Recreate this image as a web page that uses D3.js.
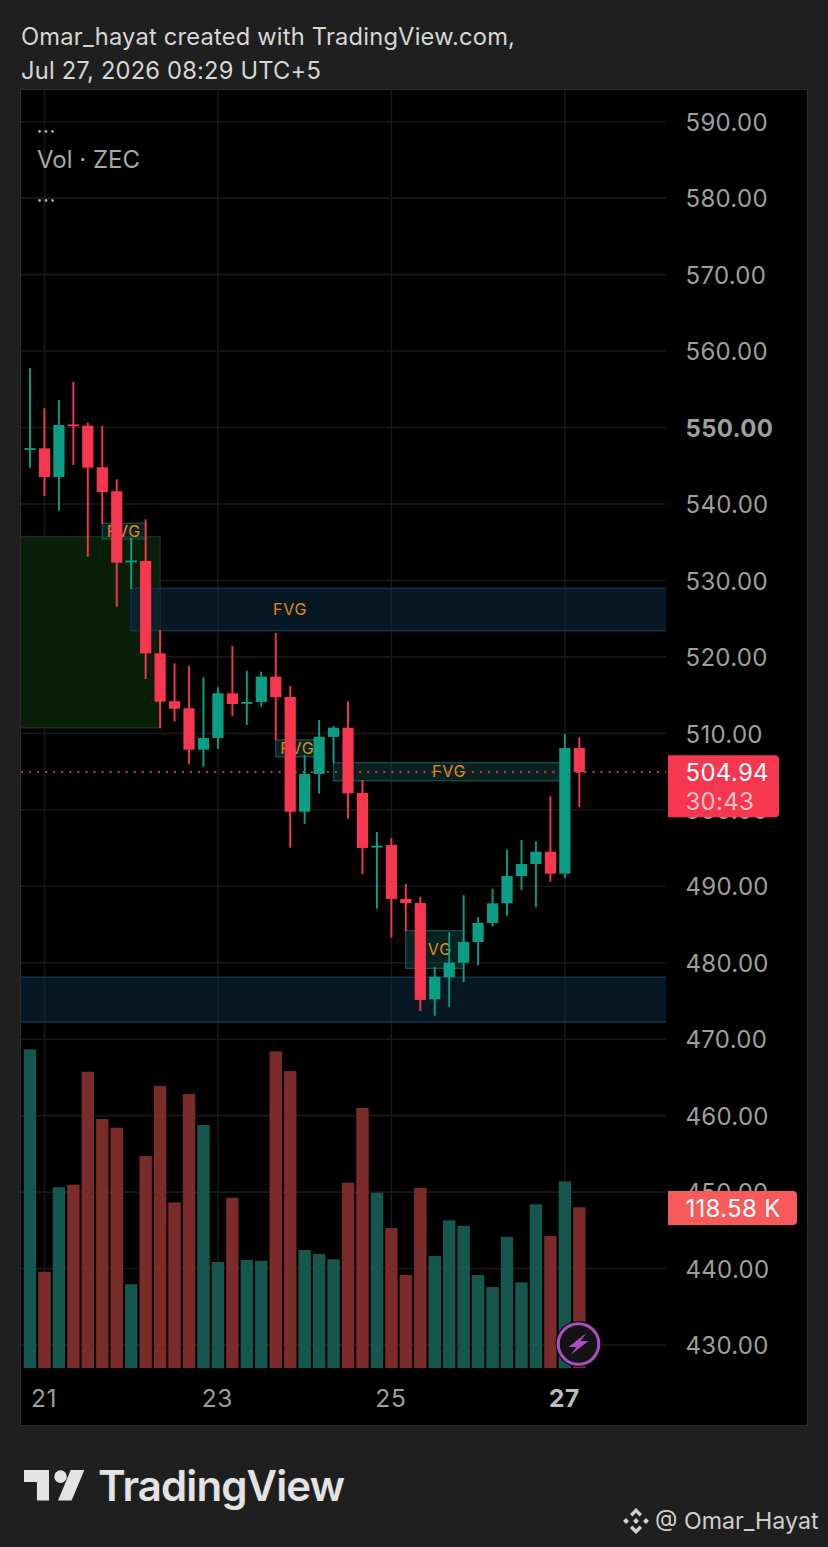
<!DOCTYPE html>
<html><head><meta charset="utf-8">
<script src="https://cdn.jsdelivr.net/npm/d3@7/dist/d3.min.js"></script>
<style>html,body{margin:0;padding:0;background:#1f1f1f}svg{display:block}text{font-family:Inter,"Noto Sans",sans-serif}</style>
</head><body><div id="c"></div>
<script>
const open_ = [547.2,547.28,543.53,550.4,550.24,544.8,541.66,532.45,532.54,520.47,514.2,513.28,507.86,509.39,515.24,514.0,514.1,517.41,514.76,499.75,504.69,509.53,510.74,502.2,495.15,495.4,488.34,487.81,475.22,478.1,480.0,482.71,485.2,487.77,491.34,492.91,494.52,491.65,508.09];
const close_ = [547.3,543.53,550.33,550.25,544.75,541.57,532.32,532.6,520.47,514.14,513.23,507.86,509.39,515.24,513.84,514.1,517.41,514.72,499.75,504.69,509.56,510.74,502.16,495.01,495.3,488.34,487.81,475.13,478.17,480.0,482.71,485.2,487.77,491.34,492.91,494.52,491.65,508.09,504.94];
const high_ = [557.75,552.52,553.6,555.96,550.63,550.24,543.23,535.59,538.0,523.52,519.16,518.81,517.33,516.02,521.43,518.2,518.07,523.13,516.19,507.17,511.75,510.96,514.19,503.9,497.1,496.28,490.3,488.64,479.4,483.98,488.82,485.98,489.68,494.78,496.05,495.88,501.77,509.92,509.49];
const low_ = [544.75,541.05,539.12,545.1,533.11,537.38,526.57,528.88,517.11,510.66,511.53,505.99,505.64,507.96,512.27,511.09,513.49,509.13,495.05,498.15,502.11,506.09,498.84,491.57,487.07,483.28,484.15,473.69,473.07,474.25,477.48,479.67,484.71,486.15,489.52,487.25,490.6,491.04,500.37];
const volumeK = [234.9,71.1,133.3,135.2,218.4,183.6,177.2,61.9,156.3,207.9,122.2,202,179.2,78.3,125.6,79.8,79.2,233.4,218.9,87.1,84.2,80.3,136.7,191.7,129.3,103.3,68.7,132.8,82.7,109,105,68.7,59.9,96.9,63.3,120.8,97.4,137.7,118.58];
const priceTicks = [430,440,450,460,470,480,490,500,510,520,530,540,550,560,570,580,590];
const dayIndex = [1,13,25,37];
const dayLabels = ["21","23","25","27"];
const lastPrice = 504.94, lastCountdown = "30:43", lastVolume = 118.58;
const boxStart = [-3,7,5,17,21,26,-3];
const boxEnd = [9,60,8,20,37,30,60];
const boxTop = [535.72,528.97,537.47,509.13,506.16,484.19,478.1];
const boxBottom = [510.74,523.43,535.42,506.95,503.81,479.27,472.25];
const boxKind = ["green","blue","teal","teal","teal","teal","blue"];
const boxLabelAt = [null,18,6.5,18.5,29,28,null];

const W=828,H=1547, px0=21, px1=666, pt=89.5, pb=1368.5;
const x=d3.scaleLinear().domain([0,38]).range([30,579.3]);
const y=d3.scaleLinear().domain([430,590]).range([1345,121.7]);
const v=d3.scaleLinear().domain([0,lastVolume]).range([1368.3,1207.3]);
const RED="#f7374f",TEAL="#0a9e85",VRED="#7c2b2b",VTEAL="#15574f",GRID="#181818";
const svg=d3.select("#c").append("svg").attr("width",W).attr("height",H).attr("viewBox",`0 0 ${W} ${H}`);
svg.append("rect").attr("width",W).attr("height",H).attr("fill","#1f1f1f");

// header
const hdr=svg.append("g").attr("fill","#d6d6d6").attr("font-size",23.7).attr("letter-spacing",0.2);
hdr.append("text").attr("x",21).attr("y",45).text("Omar_hayat created with TradingView.com,");
hdr.append("text").attr("x",21).attr("y",79).text("Jul 27, 2026 08:29 UTC+5");

// pane
svg.append("rect").attr("x",20.5).attr("y",89.5).attr("width",787).attr("height",1336).attr("fill","#000").attr("stroke","#2c2c2c").attr("stroke-width",1);
svg.append("defs").append("clipPath").attr("id","plot").append("rect").attr("x",px0).attr("y",pt).attr("width",px1-px0).attr("height",pb-pt);
const plot=svg.append("g").attr("clip-path","url(#plot)");

// grid
plot.append("g").selectAll("line").data(priceTicks).join("line")
 .attr("x1",px0).attr("x2",px1).attr("y1",d=>y(d)).attr("y2",d=>y(d)).attr("stroke",GRID).attr("stroke-width",1.6);
plot.append("g").selectAll("line").data(dayIndex).join("line")
 .attr("x1",d=>x(d)).attr("x2",d=>x(d)).attr("y1",pt).attr("y2",pb).attr("stroke",GRID).attr("stroke-width",1.6);

// volume
const bw=12.4;
plot.append("g").selectAll("rect").data(volumeK).join("rect")
 .attr("x",(d,i)=>x(i)-bw/2).attr("width",bw).attr("y",d=>v(d)).attr("height",d=>v(0)-v(d))
 .attr("fill",(d,i)=>close_[i]>=open_[i]?VTEAL:VRED);

// FVG boxes
const kinds={green:{f:"#0a1f0a",s:"#123012"},blue:{f:"rgba(11,38,60,0.62)",s:"#11324d"},teal:{f:"rgba(16,80,78,0.42)",s:"#134b48"}};
const boxes=d3.range(boxStart.length);
plot.append("g").selectAll("rect").data(boxes).join("rect")
 .attr("x",i=>x(boxStart[i])).attr("width",i=>x(boxEnd[i])-x(boxStart[i]))
 .attr("y",i=>y(boxTop[i])).attr("height",i=>y(boxBottom[i])-y(boxTop[i]))
 .attr("fill",i=>kinds[boxKind[i]].f).attr("stroke",i=>kinds[boxKind[i]].s).attr("stroke-width",1.5);
plot.append("g").selectAll("text").data(boxes.filter(i=>boxLabelAt[i]!==null)).join("text")
 .attr("x",i=>x(boxLabelAt[i])).attr("y",i=>(y(boxTop[i])+y(boxBottom[i]))/2+5.6)
 .attr("text-anchor","middle").attr("font-size",16).attr("letter-spacing",0.8).attr("fill","#e38a10").text("FVG");

// last price line
plot.append("line").attr("x1",px0).attr("x2",px1).attr("y1",y(lastPrice)).attr("y2",y(lastPrice))
 .attr("stroke",RED).attr("stroke-width",1.8).attr("stroke-dasharray","2 6.05");

// candles
const bodyW=11.2, col=i=>close_[i]>=open_[i]?TEAL:RED;
const idx=d3.range(open_.length);
plot.append("g").selectAll("line").data(idx).join("line")
 .attr("x1",i=>x(i)).attr("x2",i=>x(i)).attr("y1",i=>y(high_[i])).attr("y2",i=>y(low_[i]))
 .attr("stroke",col).attr("stroke-width",1.9);
plot.append("g").selectAll("rect").data(idx).join("rect")
 .attr("x",i=>x(i)-bodyW/2).attr("width",bodyW)
 .attr("y",i=>y(Math.max(open_[i],close_[i])))
 .attr("height",i=>Math.max(1.8,Math.abs(y(open_[i])-y(close_[i])))).attr("fill",col);

// price axis
const axY=svg.append("g").attr("transform","translate(685.5,0)").call(d3.axisRight(y).tickValues(priceTicks).tickSize(0).tickPadding(0).tickFormat(d3.format(".2f")));
axY.select(".domain").remove();
axY.selectAll("text").attr("fill","#9e9e9e").attr("font-size",24).attr("letter-spacing",0.3).attr("dy",8.7).attr("font-weight",d=>d===550?700:400).attr("text-anchor","start");

// time axis
const axX=svg.append("g").attr("transform","translate(-1,1376)").call(d3.axisBottom(x).tickValues(dayIndex).tickSize(0).tickPadding(0).tickFormat((d,i)=>dayLabels[i]));
axX.select(".domain").remove();
axX.selectAll("text").attr("fill",(d,i)=>i===3?"#bdbdbd":"#9e9e9e").attr("font-size",24.5).attr("letter-spacing",0.6).attr("dy",31).attr("font-weight",(d,i)=>i===3?700:400);

// last price label
function rr(x0,y0,w,h,r){return `M${x0},${y0}H${x0+w-r}Q${x0+w},${y0} ${x0+w},${y0+r}V${y0+h-r}Q${x0+w},${y0+h} ${x0+w-r},${y0+h}H${x0}Z`;}
const labelCy=y(lastPrice)+14.2;
svg.append("path").attr("d",rr(668,labelCy-31,111,62,4)).attr("fill",RED);
svg.append("text").attr("x",685.5).attr("y",y(lastPrice)+9).attr("fill","#fff").attr("font-size",24).attr("letter-spacing",0.3).text(d3.format(".2f")(lastPrice));
svg.append("text").attr("x",685.5).attr("y",y(lastPrice)+38).attr("fill","#fbc1c7").attr("font-size",24).attr("letter-spacing",0.3).text(lastCountdown);

// volume label
svg.append("path").attr("d",rr(668,1191,129,34,4)).attr("fill","#f65a5a");
svg.append("text").attr("x",685.5).attr("y",1217).attr("fill","#fff").attr("font-size",24).attr("letter-spacing",0.3).text(d3.format(".2f")(lastVolume)+" K");

// legend
const leg=svg.append("g").attr("fill","#a8a8a8").attr("font-size",24);
leg.append("text").attr("x",37).attr("y",168).text("Vol · ZEC");
[131.5,200.5].forEach(cy=>[0,1,2].forEach(k=>leg.append("circle").attr("cx",39.5+k*6.5).attr("cy",cy).attr("r",1.4)));

// lightning badge
const bd=svg.append("g").attr("transform","translate(578.5,1344)");
bd.append("circle").attr("r",23).attr("fill","#0b0b0b");
bd.append("circle").attr("r",20.3).attr("fill","#131313").attr("stroke","#a94fc3").attr("stroke-width",3);
bd.append("path").attr("d","M8,-11 L-10,3 L-2,3 L-8,11 L10,-3 L2,-3 Z").attr("fill","#a94fc3");

// TradingView logo
svg.append("g").attr("transform","translate(24,1463.2) scale(1.7)").attr("fill","#e3e3e3").call(g=>{
 g.append("path").attr("d","M14.7,22H7.6V11H0V4h14.7z");
 g.append("path").attr("d","M28,22h-8l7.5-18h8L28,22z");
 g.append("circle").attr("cx",21.5).attr("cy",7.9).attr("r",3.7);
});
svg.append("text").attr("x",98).attr("y",1501).attr("fill","#e3e3e3").attr("font-size",42).attr("font-weight",600).attr("letter-spacing",-0.9).attr("font-family","Inter").text("TradingView");

// watermark
const wm=svg.append("g").attr("transform","translate(636,1521)").attr("fill","#d2d2d2");
wm.append("path").attr("d","M0,-13L6,-7L3.6,-4.6L0,-8.2L-3.6,-4.6L-6,-7Z M0,13L6,7L3.6,4.6L0,8.2L-3.6,4.6L-6,7Z");
wm.append("path").attr("d","M0,-3L3,0L0,3L-3,0Z M-10,-3L-7,0L-10,3L-13,0Z M10,-3L13,0L10,3L7,0Z");
svg.append("text").attr("x",655).attr("y",1529).attr("fill","#cfcfcf").attr("font-size",23.2).attr("font-family","'Open Sans'").text("@ Omar_Hayat");
</script></body></html>
